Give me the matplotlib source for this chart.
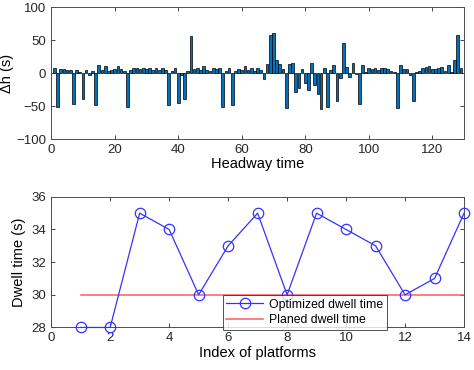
import matplotlib
matplotlib.use("Agg")
import matplotlib.pyplot as plt
import numpy as np

plt.rcParams['font.family'] = ['Liberation Sans', 'DejaVu Sans']

# Top chart: headway deviation per headway
delta_h = [7, -52, 6, 6, 5, 5, -47, 5, 1, -40,
           4, -3, 3, -49, 12, 4, 10, 3, 4, 6,
           11, 6, 3, -52, 5, 7, 7, 6, 7, 6,
           7, 5, 7, 5, 7, 4, -48, 3, 8, -45,
           -3, -40, 3, 56, 6, 8, 5, 10, 4, 3,
           8, 6, 7, -52, 3, 7, -49, 3, 6, 4,
           10, 4, 8, 3, 7, 4, -9, 14, 57, 60,
           20, 13, 6, -53, 13, 15, -28, -22, 6, -15,
           -25, 15, -18, -32, -55, 8, -52, 4, 12, -43,
           -8, 45, 9, -6, 15, -2, -47, 12, 1, 7,
           6, 7, 5, 8, 7, 6, 3, 1, -53, 12,
           6, 6, -3, -42, 2, 3, 7, 9, 11, 6,
           6, 8, 9, 3, 12, 1, 20, 57, 8]
headway_idx = list(range(1, len(delta_h) + 1))

# Bottom chart
platforms = [1, 2, 3, 4, 5, 6, 7, 8, 9, 10, 11, 12, 13, 14]
optimized = [28, 28, 35, 34, 30, 33, 35, 30, 35, 34, 33, 30, 31, 35]
planned = [30] * len(platforms)

fig = plt.figure(figsize=(4.74, 3.70), dpi=100)
ax1 = fig.add_axes([0.108, 0.624, 0.871, 0.357])
ax2 = fig.add_axes([0.108, 0.115, 0.871, 0.353])

spine_col = '#4d4d4d'
for ax in (ax1, ax2):
    for s in ax.spines.values():
        s.set_color(spine_col)
        s.set_linewidth(0.7)
    ax.tick_params(direction='in', top=True, right=True, colors='#262626',
                   labelsize=9.5, length=3, width=0.6)

ax1.bar(headway_idx, delta_h, width=0.85, color='#0072BD', edgecolor='black', linewidth=0.5)
ax1.set_xlim(0, 130)
ax1.set_ylim(-100, 100)
ax1.set_xticks(np.arange(0, 121, 20))
ax1.set_yticks([-100, -50, 0, 50, 100])
ax1.set_xlabel('Headway time', fontsize=10.5, labelpad=1)
ax1.set_ylabel('Δh (s)', fontsize=10.5, labelpad=2)

ax2.plot(platforms, planned, '-', color='#ff5c5c', linewidth=1.1,
         label='Planed dwell time', zorder=2)
ax2.plot(platforms, optimized, '-o', color='#3333ff', linewidth=0.9,
         markersize=7.5, markerfacecolor='none', markeredgewidth=0.9,
         label='Optimized dwell time', clip_on=False, zorder=3)
ax2.set_xlim(0, 14)
ax2.set_ylim(28, 36)
ax2.set_xticks(np.arange(0, 15, 2))
ax2.set_yticks(np.arange(28, 37, 2))
ax2.set_xlabel('Index of platforms', fontsize=10.5, labelpad=1)
ax2.set_ylabel('Dwell time (s)', fontsize=10.5, labelpad=4)
handles, labels = ax2.get_legend_handles_labels()
leg = ax2.legend(handles[::-1], labels[::-1], loc='lower left',
                 bbox_to_anchor=(0.415, -0.02), fontsize=8.8,
                 frameon=True, fancybox=False, borderpad=0.3, labelspacing=0.3,
                 handlelength=3.0, handletextpad=0.5, borderaxespad=0)
leg.get_frame().set_edgecolor('#262626')
leg.get_frame().set_linewidth(0.7)
leg.set_zorder(5)

fig.savefig('out.png', dpi=100)
